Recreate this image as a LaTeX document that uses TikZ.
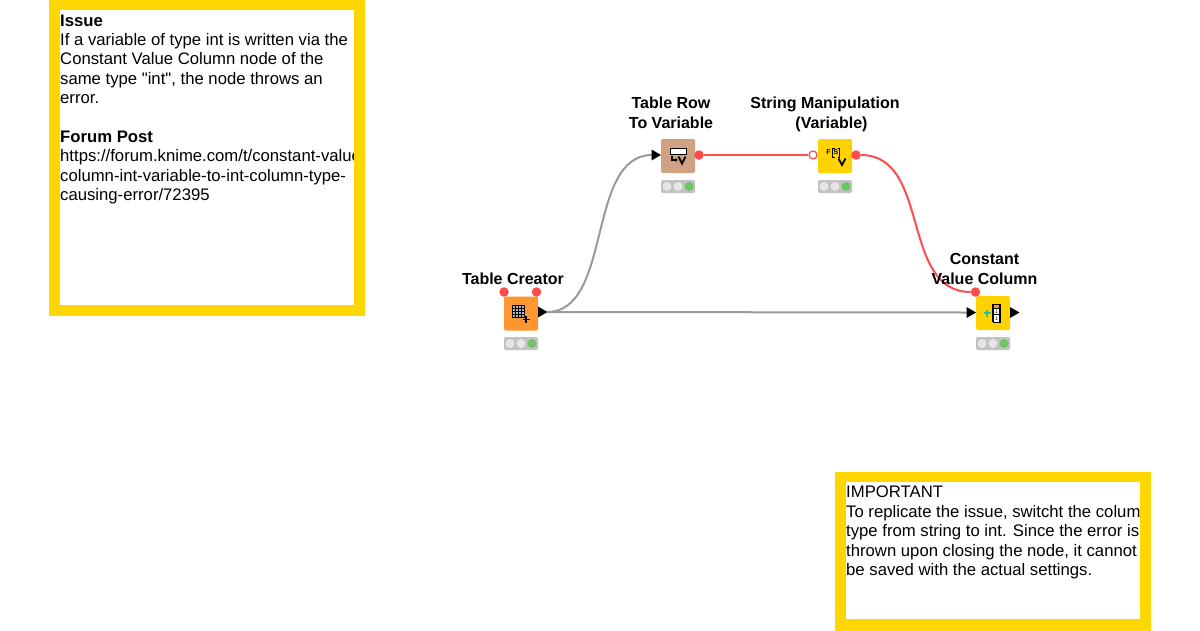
\documentclass[tikz,border=0pt]{standalone}
\usepackage{fontspec}
\setmainfont{Liberation Sans}
\newfontfamily\bodyfont{Liberation Sans}
\definecolor{frameY}{HTML}{FFD700}
\definecolor{nodeY}{HTML}{FFD200}
\definecolor{nodeO}{HTML}{FF9632}
\definecolor{nodeB}{HTML}{D0A282}
\definecolor{portR}{HTML}{FF4B4B}
\definecolor{wireG}{HTML}{9A9A9A}
\definecolor{lightG}{HTML}{6CC463}
\definecolor{lightW}{HTML}{E6E6E6}
\definecolor{barG}{HTML}{C2C2C2}
\definecolor{plusT}{HTML}{3DB88F}
\tikzset{
  note/.style={anchor=north west,inner sep=0pt,align=left,font=\bodyfont\fontsize{16.7}{19.4}\selectfont,text=black},
  kbox/.style={rounded corners=1.5pt,minimum width=34pt,minimum height=34pt,inner sep=0pt,draw=none},
  lab/.style={font=\bfseries\fontsize{16}{20}\selectfont,align=center,inner sep=0pt,anchor=south},
  port/.style={circle,fill=portR,minimum size=9.5pt,inner sep=0pt,draw=none},
  openport/.style={circle,fill=white,draw=portR,line width=1.2pt,minimum size=8pt,inner sep=0pt},
  wireg/.style={draw=wireG,line width=2pt},
  wirer/.style={draw=portR,line width=2pt},
  tip/.style={fill=black,draw=none},
  bar/.style={fill=barG,rounded corners=1.5pt,draw=none},
  lamp/.style={circle,minimum size=9pt,inner sep=0pt,draw=none}
}
\newcommand{\statusbar}[2]{%
  \fill[bar] (#1-17,#2) rectangle (#1+17,#2+13);
  \node[lamp,fill=lightW] at (#1-11,#2+6.5) {};
  \node[lamp,fill=lightW] at (#1,#2+6.5) {};
  \node[lamp,fill=lightG] at (#1+11,#2+6.5) {};
}
\newcommand{\intip}[1]{\fill[tip] (#1) -- ++(-9.5,-5.5) -- ++(0,11) -- cycle;}
\newcommand{\outtip}[1]{\fill[tip] (#1) -- ++(0,-5.5) -- ++(9.5,5.5) -- ++(-9.5,5.5) -- cycle;}
\begin{document}
\begin{tikzpicture}[x=1pt,y=-1pt]
\useasboundingbox (0,0) rectangle (1200,630);
\fill[white] (0,0) rectangle (1200,630);

% annotation frames
\fill[frameY] (49,-5) rectangle (364.5,316);
\fill[white] (60,10) rectangle (354,305);
\node[note] (issue) at (60,14.5) {\textbf{Issue}\\If a variable of type int is written via the\\Constant Value Column node of the\\same type "int", the node throws an\\error.\\[19.4pt]\textbf{Forum Post}\\https://forum.knime.com/t/constant-value-\\column-int-variable-to-int-column-type-\\causing-error/72395};
\fill[frameY] (354,-5) rectangle (364.5,316);
\fill[white] (364.5,140) rectangle (372,170);

\fill[frameY] (835,472) rectangle (1151,635);
\fill[white] (846,482) rectangle (1140,619);
\node[note] (important) at (846,486) {IMPORTANT\\To replicate the issue, switcht the column\\type from string to int. Since the error is\\thrown upon closing the node, it cannot\\be saved with the actual settings.};
\fill[frameY] (1140,472) rectangle (1151,635);

% node bodies
\node[kbox,fill=nodeO] (tc) at (521,313.5) {};
\node[kbox,fill=nodeB] (trv) at (678,156) {};
\node[kbox,fill=nodeY] (sm) at (835,156) {};
\node[kbox,fill=nodeY] (cvc) at (993,313) {};

% ports
\coordinate (tcout) at (538,312);
\coordinate (trvin) at (661,155);
\coordinate (cvcin) at (976,312.5);
\coordinate (cvcout) at (1010,312.5);
\coordinate (tcoutend) at (547,312);
\coordinate (trvinend) at (652,155);
\coordinate (cvcinend) at (967,312.5);
\node[port] (tcv1) at (504,292) {};
\node[port] (tcv2) at (536.5,292) {};
\node[port] (trvv) at (699,155) {};
\node[openport] (smin) at (813,155) {};
\node[port] (smout) at (856,155) {};
\node[port] (cvcv) at (975.5,292) {};

% connectors
\draw[wireg] (tcoutend) .. controls (613,312) and (586,155) .. (trvinend);
\draw[wireg] (tcoutend) -- (cvcinend);
\draw[wirer] (trvv) -- (smin);
\draw[wirer] (smout) .. controls (931,155) and (900,292) .. (cvcv);

% port triangles
\outtip{tcout}
\intip{trvin}
\intip{cvcin}
\outtip{cvcout}

% status bars
\statusbar{521}{337}
\statusbar{678}{180}
\statusbar{835}{180}
\statusbar{993}{337}

% icon: table creator
\fill[lightW!80!black] (513,305) rectangle (524,317);
\draw[black,line width=.7pt] (512.5,305) rectangle (524.5,317.5);
\foreach \v in {515.5,518.5,521.5} \draw[black,line width=.6pt] (\v,305) -- (\v,317.5);
\foreach \v in {308,311,314} \draw[black,line width=.6pt] (512.5,\v) -- (524.5,\v);
\draw[black,line width=1.6pt] (522.5,319.5) -- (529.5,319.5) (526,316) -- (526,323);

% icon: table row to variable
\fill[white,draw=black,line width=1pt] (670,148.5) rectangle (686,154.5);
\draw[black,line width=1.3pt] (672,156) -- (672,160) -- (677,160);
\draw[black,line width=.9pt] (675.5,158.5) -- (677,160) -- (675.5,161.5);
\draw[black,line width=1.8pt] (678.5,156.5) -- (682,163.5) -- (685.5,156.5);

% icon: string manipulation
\node[inner sep=0pt,font=\bfseries\fontsize{7}{8}\selectfont] (smf) at (828.5,152.5) {F};
\draw[black,line width=.7pt] (834.5,148) -- (832,148) -- (832,157) -- (834.5,157);
\node[inner sep=0pt,font=\bfseries\fontsize{7}{8}\selectfont] (sms) at (836,152.5) {S};
\draw[black,line width=.7pt] (837.5,148) -- (839.5,148) -- (839.5,157) -- (837.5,157);
\draw[black,line width=1.8pt] (838.5,158.5) -- (842,165) -- (845.5,158.5);

% icon: constant value column
\draw[plusT,line width=2pt] (983.5,313) -- (990.5,313) (987,309.5) -- (987,316.5);
\fill[white] (993,304) rectangle (1000,322);
\fill[nodeO] (993,304) rectangle (1000,308);
\draw[black,line width=.8pt] (993,304) rectangle (1000,322) (993,308) -- (1000,308) (993,314.5) -- (1000,314.5);
\draw[black,line width=1.4pt] (993,304) -- (993,322) (1000,304) -- (1000,322);
\node[inner sep=0pt,font=\fontsize{5}{5}\selectfont] (cvc1) at (996.5,311.5) {1};
\node[inner sep=0pt,font=\fontsize{5}{5}\selectfont] (cvc2) at (996.5,318.5) {1};

% labels
\node[lab] (ltc) at (513,285) {Table Creator};
\node[lab] (ltrv) at (671,129) {Table Row\\To Variable};
\node[lab] (lsm) at (825,132) {String Manipulation\\\hspace*{13pt}(Variable)};
\node[lab] (lcvc) at (984.5,285) {Constant\\Value Column};
\end{tikzpicture}
\end{document}
